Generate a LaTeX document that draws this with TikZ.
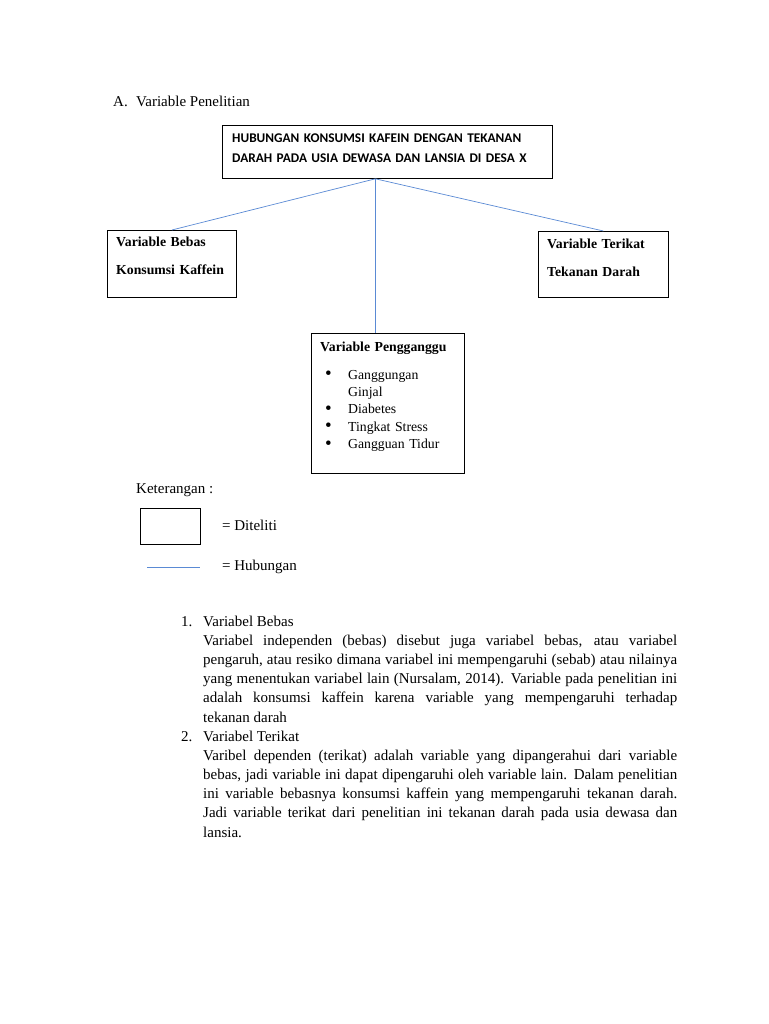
\documentclass[tikz,border=0pt]{standalone}
\usepackage{fontspec}
\setmainfont{Liberation Serif}
\newfontfamily\calibri{Carlito}
\usetikzlibrary{positioning}
\definecolor{hubblue}{RGB}{90,138,212}
\newcommand{\bul}{\makebox[23pt][l]{\raisebox{-0.5pt}{\fontsize{19}{19}\selectfont\textbullet}}}

\begin{document}
\begin{tikzpicture}[x=1pt,y=-1pt,
  box/.style={draw,rectangle,line width=0.8pt,anchor=north west,inner sep=0pt},
  txt/.style={anchor=base west,inner sep=0pt,font=\fontsize{15}{19.2}\selectfont},
  boxtxt/.style={anchor=base west,inner sep=0pt,text width=140pt,align=left,font=\fontsize{13.75}{28}\selectfont\bfseries},
  link/.style={hubblue,line width=0.7pt}]
\useasboundingbox (0,0) rectangle (768,1024);

\node (secA) [txt] at (113,107) {A.};
\node (secAT) [txt] at (136,107) {Variable Penelitian};

\node (title) [box,minimum width=330,minimum height=53] at (222,125) {};
\node (titleT) [anchor=base west,inner sep=0pt,text width=320pt,align=left,font=\calibri\bfseries\fontsize{13.3}{20}\selectfont] at ([xshift=10pt,yshift=-17.5pt]title.north west) {HUBUNGAN KONSUMSI KAFEIN DENGAN TEKANAN\\DARAH PADA USIA DEWASA DAN LANSIA DI DESA X};

\node (bebas) [box,minimum width=129,minimum height=67] at (107,230) {};
\node (bebasT) [boxtxt] at ([xshift=9pt,yshift=-17pt]bebas.north west) {Variable Bebas\\Konsumsi Kaffein};

\node (terikat) [box,minimum width=130,minimum height=66] at (538,231) {};
\node (terikatT) [boxtxt] at ([xshift=9pt,yshift=-17pt]terikat.north west) {Variable Terikat\\Tekanan Darah};

\node (ganggu) [box,minimum width=153,minimum height=140] at (311,333) {};
\node (gangguT) [boxtxt] at ([xshift=9pt,yshift=-18.5pt]ganggu.north west) {Variable Pengganggu};
\node (gangguL) [anchor=base west,inner sep=0pt,text width=135pt,align=left,font=\fontsize{13.75}{17.4}\selectfont] at ([xshift=14pt,yshift=-46pt]ganggu.north west) {\bul Ganggungan\\\hspace*{23pt}Ginjal\\\bul Diabetes\\\bul Tingkat Stress\\\bul Gangguan Tidur};

\coordinate (top) at ([xshift=-12pt]title.south);
\draw[link] (top) -- (bebas.north);
\draw[link] (top) -- (ganggu.north -| top);
\draw[link] (top) -- (terikat.north);

\node (ket) [txt] at (136,493) {Keterangan :};
\node (legBox) [box,minimum width=60,minimum height=36] at (140,508) {};
\node (legBoxT) [txt] at (222,530) {= Diteliti};
\coordinate (legA) at (147,567);
\coordinate (legB) at (200,567);
\draw[link] (legA) -- (legB);
\node (legLineT) [txt] at (222,570) {= Hubungan};

\node (n1) [txt] at (181,626) {1.};
\node (item1) [txt,text width=474pt,align=justify] at (203,626) {Variabel Bebas\\Variabel independen (bebas) disebut juga variabel bebas, atau variabel\linebreak pengaruh, atau resiko dimana variabel ini mempengaruhi (sebab) atau nilainya\linebreak yang menentukan variabel lain (Nursalam, 2014). Variable pada penelitian ini\linebreak adalah konsumsi kaffein karena variable yang mempengaruhi terhadap\linebreak tekanan darah};
\node (n2) [txt] at (181,741) {2.};
\node (item2) [txt,text width=474pt,align=justify] at (203,741) {Variabel Terikat\\Varibel dependen (terikat) adalah variable yang dipangerahui dari variable\linebreak bebas, jadi variable ini dapat dipengaruhi oleh variable lain. Dalam penelitian\linebreak ini variable bebasnya konsumsi kaffein yang mempengaruhi tekanan darah.\linebreak Jadi variable terikat dari penelitian ini tekanan darah pada usia dewasa dan\linebreak lansia.};
\end{tikzpicture}
\end{document}
